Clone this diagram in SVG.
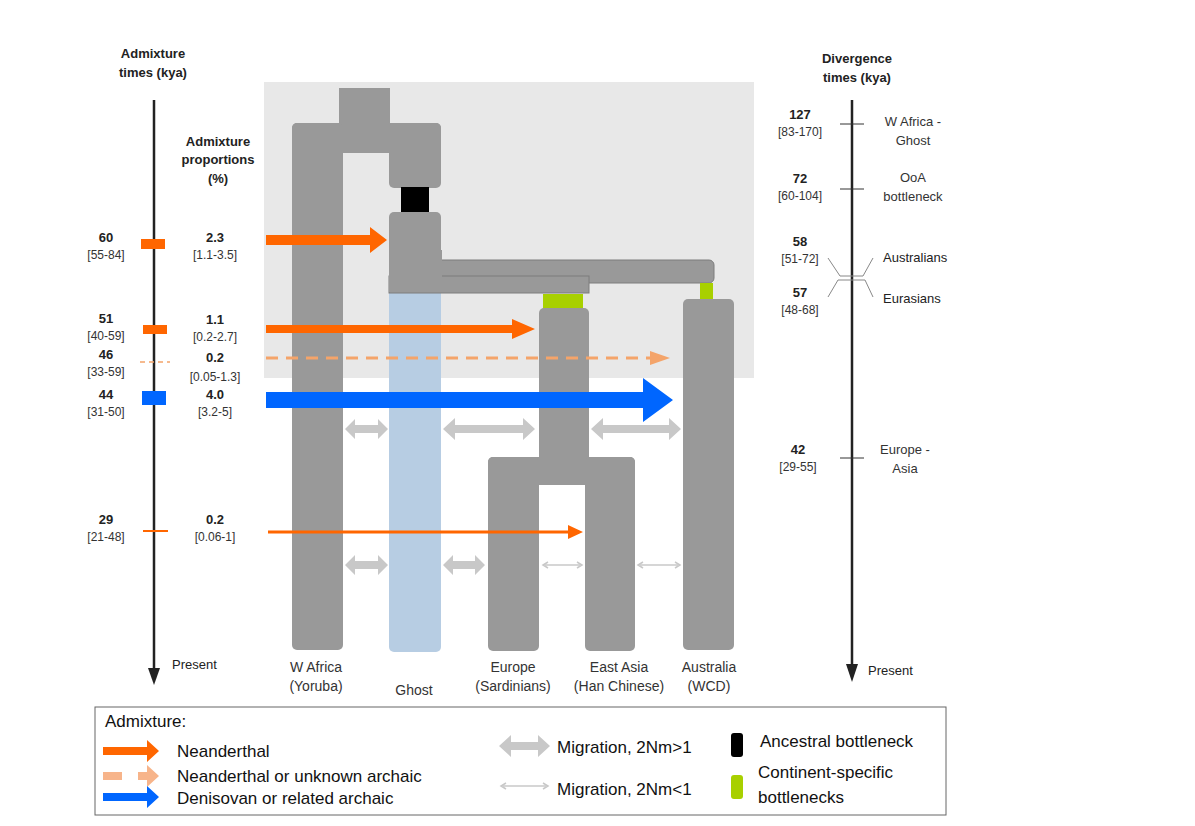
<svg xmlns="http://www.w3.org/2000/svg" width="1195" height="826" viewBox="0 0 1195 826">
<style>
text{font-family:"Liberation Sans",Arial,sans-serif;fill:#222}
.b{font-weight:bold;font-size:13px;text-anchor:middle}
.r{font-size:12px;text-anchor:middle;fill:#333}
.p{font-size:13px;text-anchor:middle;fill:#333}
.n{font-size:14px;text-anchor:middle;fill:#333}
.g{fill:#999999}
.lg{font-size:17px;fill:#111}
.ax{stroke:#222;stroke-width:2.5}
.tk{stroke:#333;stroke-width:1}
</style>
<rect width="1195" height="826" fill="#fff"/>
<rect x="264" y="82" width="490" height="296" fill="#e8e8e8"/>

<g id="left-axis">
<line class="ax" x1="154" y1="100" x2="154" y2="672"/>
<path d="M148,668L154,685L160,668z" fill="#222"/>
<text class="b" x="153" y="58">Admixture</text>
<text class="b" x="153" y="77">times (kya)</text>
<text class="b" x="218" y="146">Admixture</text>
<text class="b" x="218" y="164">proportions</text>
<text class="b" x="218" y="183">(%)</text>
<rect x="141" y="239" width="24" height="10" fill="#ff6600"/>
<rect x="143" y="325" width="24" height="9" fill="#ff6600"/>
<line x1="140" y1="362" x2="170" y2="362" stroke="#f4a46a" stroke-width="1.5" stroke-dasharray="5,4"/>
<rect x="142" y="391" width="24" height="14" fill="#0066ff"/>
<line x1="143" y1="531" x2="168" y2="531" stroke="#ff6600" stroke-width="2"/>
<text class="b" x="106" y="242">60</text><text class="r" x="106" y="259">[55-84]</text>
<text class="b" x="106" y="323">51</text><text class="r" x="106" y="340">[40-59]</text>
<text class="b" x="106" y="359">46</text><text class="r" x="106" y="376">[33-59]</text>
<text class="b" x="106" y="399">44</text><text class="r" x="106" y="416">[31-50]</text>
<text class="b" x="106" y="524">29</text><text class="r" x="106" y="541">[21-48]</text>
<text class="b" x="215" y="242">2.3</text><text class="r" x="215" y="259">[1.1-3.5]</text>
<text class="b" x="215" y="324">1.1</text><text class="r" x="215" y="341">[0.2-2.7]</text>
<text class="b" x="215" y="362">0.2</text><text class="r" x="215" y="381">[0.05-1.3]</text>
<text class="b" x="215" y="399">4.0</text><text class="r" x="215" y="416">[3.2-5]</text>
<text class="b" x="215" y="524">0.2</text><text class="r" x="215" y="541">[0.06-1]</text>
<text x="172" y="669" font-size="13" fill="#333">Present</text>
</g>

<g id="right-axis">
<line class="ax" x1="852" y1="100" x2="852" y2="668"/>
<path d="M846,664L852,682L858,664z" fill="#222"/>
<text class="b" x="857" y="63">Divergence</text>
<text class="b" x="857" y="82">times (kya)</text>
<line class="tk" x1="840" y1="124" x2="864" y2="124"/>
<line class="tk" x1="840" y1="189" x2="864" y2="189"/>
<line class="tk" x1="840" y1="458" x2="864" y2="458"/>
<polyline points="828,258 840,276 863,276 873,258" fill="none" stroke="#888" stroke-width="1"/>
<polyline points="828,297 838,280 865,280 873,297" fill="none" stroke="#888" stroke-width="1"/>
<text class="b" x="800" y="119">127</text><text class="r" x="800" y="136">[83-170]</text>
<text class="b" x="800" y="183">72</text><text class="r" x="800" y="200">[60-104]</text>
<text class="b" x="800" y="246">58</text><text class="r" x="800" y="263">[51-72]</text>
<text class="b" x="800" y="297">57</text><text class="r" x="800" y="314">[48-68]</text>
<text class="b" x="798" y="454">42</text><text class="r" x="798" y="471">[29-55]</text>
<text class="p" x="913" y="126">W Africa -</text><text class="p" x="913" y="145">Ghost</text>
<text class="p" x="913" y="182">OoA</text><text class="p" x="913" y="201">bottleneck</text>
<text x="883" y="262" font-size="13" fill="#333">Australians</text>
<text x="883" y="303" font-size="13" fill="#333">Eurasians</text>
<text class="p" x="905" y="454">Europe -</text><text class="p" x="905" y="473">Asia</text>
<text x="868" y="675" font-size="13" fill="#333">Present</text>
</g>

<g id="node-ghost">
<rect x="389" y="285" width="52" height="367" rx="5" fill="#b7cde3"/>
</g>
<g id="node-wafrica">
<rect class="g" x="339" y="88" width="51" height="45"/>
<rect class="g" x="292" y="123" width="149" height="30" rx="5"/>
<rect class="g" x="292" y="123" width="51" height="527" rx="5"/>
<rect class="g" x="389" y="123" width="52" height="65" rx="5"/>
</g>
<g id="node-ancestral-bottleneck">
<rect x="401" y="187" width="28" height="25" fill="#000"/>
</g>
<g id="node-ooa">
<rect class="g" x="389" y="212" width="52" height="81" rx="5"/>
<rect class="g" x="436" y="260" width="278" height="23" rx="5" stroke="#7d7d7d" stroke-width="1"/>
<rect class="g" x="389" y="276" width="200" height="17" stroke="#7d7d7d" stroke-width="1"/>
<rect class="g" x="389" y="250" width="53" height="42"/>
</g>
<g id="node-bottlenecks">
<rect x="543" y="294" width="40" height="16" fill="#a8d000"/>
<rect x="700" y="283" width="13" height="17" fill="#a8d000"/>
</g>
<g id="node-eurasia">
<rect class="g" x="539" y="308" width="50" height="170" rx="5"/>
<rect class="g" x="488" y="457" width="147" height="28" rx="5"/>
<rect class="g" x="488" y="457" width="51" height="194" rx="5"/>
<rect class="g" x="585" y="457" width="50" height="194" rx="5"/>
</g>
<g id="node-australia">
<rect class="g" x="683" y="299" width="51" height="351" rx="5"/>
</g>

<g id="connectors">
<path d="M266,235H370V227L387,240L370,253V245H266z" fill="#ff6600"/>
<path d="M266,325H512V319L535,329L512,339V333H266z" fill="#ff6600"/>
<line x1="266" y1="358" x2="650" y2="358" stroke="#f4a46a" stroke-width="3" stroke-dasharray="12,8"/>
<path d="M650,351L670,358L650,365z" fill="#f4a46a"/>
<path d="M266,392H643V378L673,400L643,422V408H266z" fill="#0066ff"/>
<path d="M268,530.5H568V525L583,532L568,539V533.5H268z" fill="#ff6600"/>
<g fill="#c8c8c8">
<path d="M345,429L355,419V425H378V419L388,429L378,439V433H355V439z"/>
<path d="M443,429L455,418V425H523V418L535,429L523,440V433H455V440z"/>
<path d="M591,429L603,418V425H669V418L681,429L669,440V433H603V440z"/>
<path d="M345,565L355,555V561H378V555L388,565L378,575V569H355V575z"/>
<path d="M443,565L453,555V561H475V555L485,565L475,575V569H453V575z"/>
</g>
<g stroke="#c8c8c8" stroke-width="1.5" fill="none">
<line x1="545" y1="565" x2="580" y2="565"/><polyline points="548,562 543,565 548,568"/><polyline points="577,562 582,565 577,568"/>
<line x1="640" y1="565" x2="678" y2="565"/><polyline points="643,562 638,565 643,568"/><polyline points="675,562 680,565 675,568"/>
</g>
</g>

<g id="labels">
<text class="n" x="316" y="672">W Africa</text><text class="n" x="316" y="691">(Yoruba)</text>
<text class="n" x="414" y="695">Ghost</text>
<text class="n" x="513" y="672">Europe</text><text class="n" x="513" y="691">(Sardinians)</text>
<text class="n" x="619" y="672">East Asia</text><text class="n" x="619" y="691">(Han Chinese)</text>
<text class="n" x="709" y="672">Australia</text><text class="n" x="709" y="691">(WCD)</text>
</g>

<g id="legend">
<rect x="95" y="707" width="851" height="108" fill="#fff" stroke="#666" stroke-width="1"/>
<text class="lg" x="105" y="727">Admixture:</text>
<path d="M103,747H147V740L159,751L147,762V755H103z" fill="#ff6600"/>
<text class="lg" x="177" y="757">Neanderthal</text>
<path d="M103,772H122V780H103zM138,772H147V765L159,776L147,787V780H138z" fill="#f7b48a"/>
<text class="lg" x="177" y="782">Neanderthal or unknown archaic</text>
<path d="M103,793H147V786L159,797L147,808V801H103z" fill="#0066ff"/>
<text class="lg" x="177" y="804">Denisovan or related archaic</text>
<path d="M499,746L511,735V742H538V735L550,746L538,757V750H511V757z" fill="#c8c8c8"/>
<text class="lg" x="557" y="753">Migration, 2Nm&gt;1</text>
<g stroke="#c8c8c8" stroke-width="1.5" fill="none">
<line x1="503" y1="786" x2="546" y2="786"/><polyline points="506,783 501,786 506,789"/><polyline points="543,783 548,786 543,789"/>
</g>
<text class="lg" x="557" y="795">Migration, 2Nm&lt;1</text>
<rect x="731" y="733" width="12" height="24" rx="3" fill="#000"/>
<text class="lg" x="760" y="747">Ancestral bottleneck</text>
<rect x="731" y="775" width="12" height="24" rx="3" fill="#a8d000"/>
<text class="lg" x="758" y="778">Continent-specific</text>
<text class="lg" x="758" y="803">bottlenecks</text>
</g>
</svg>
